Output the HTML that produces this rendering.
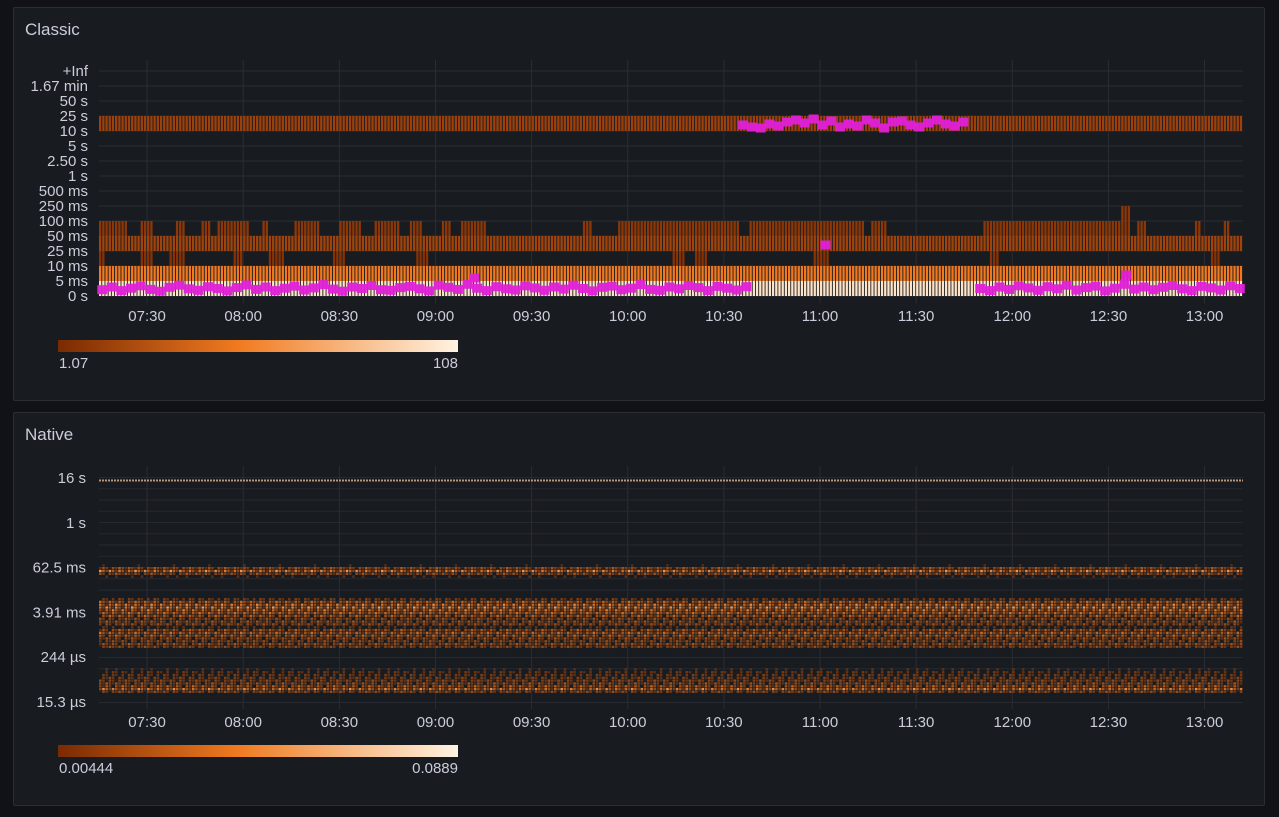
<!DOCTYPE html>
<html><head><meta charset="utf-8">
<style>
html,body{margin:0;padding:0;background:#111217;width:1279px;height:817px;overflow:hidden;font-family:"Liberation Sans",sans-serif}
.panel{position:absolute;left:13px;width:1252px;height:394px;background:#181b1f;border:1px solid #2a2d33;border-radius:2px;box-sizing:border-box}
.title{position:absolute;left:11px;top:12px;color:#ccccdc;font-size:17px;font-weight:500}
svg{position:absolute;left:0;top:0}
text{font-family:"Liberation Sans",sans-serif;fill:#ccccdc;font-size:15px}
</style></head><body>
<div class="panel" style="top:7px"><div class="title">Classic</div></div>
<div class="panel" style="top:412px"><div class="title">Native</div></div>
<svg id="chart" width="1279" height="817">
<defs>
<linearGradient id="grad" x1="0" x2="1" y1="0" y2="0">
<stop offset="0" stop-color="#7a2a02"/><stop offset="0.45" stop-color="#f07a20"/><stop offset="1" stop-color="#fff3e2"/>
</linearGradient>
</defs>
</svg>
<script>
// ---- data ----
var timeTicks = ["07:30","08:00","08:30","09:00","09:30","10:00","10:30","11:00","11:30","12:00","12:30","13:00"];
var tickMinutes = [30,60,90,120,150,180,210,240,270,300,330,360];
var classicLabels = ["+Inf","1.67 min","50 s","25 s","10 s","5 s","2.50 s","1 s","500 ms","250 ms","100 ms","50 ms","25 ms","10 ms","5 ms","0 s"];
var nativeLabels = ["16 s","1 s","62.5 ms","3.91 ms","244 µs","15.3 µs"];
// classic bands: [topLabelIndex, count]
var fullBands = [[3,14],[11,16],[13,48],[14,100]];
var seg50to100 = [[15,24.4],[28.1,31.6],[39.4,41.9],[46.9,50],[51.9,62.5],[65.6,68.1],[75.6,84],[89.6,97.1],[101.5,108.7],[111.8,116.2],[122.4,124.6],[128,136.1],[166.4,169.5],[176.7,215.4],[218.3,254.2],[256.3,261],[291,337.5],[339.4,342.2],[357.2,359.1],[365.6,368.4]];
var seg100to250 = [[334.4,337.5]];
var seg10to25 = [[15,16.6],[27.8,31.6],[37.5,41.9],[56.8,60],[68.1,73.4],[88.1,92.1],[113.7,118],[193.6,198],[201.4,205.1],[238.5,242.6],[292.6,296.3],[362.2,365.3]];
var lowExemplarsMs = [2.1,3.0,1.8,2.6,3.4,2.2,1.6,2.9,3.6,2.4,1.9,3.1,2.5,1.7,2.8,3.7,2.2,3.0,1.8,2.6,3.3,2.0,2.7,3.8,2.3,1.6,3.0,2.5,3.5,2.1,1.9,2.8,3.2,2.4,1.7,3.6,2.9,2.2,3.9,2.6,1.8,3.1,2.4,2.0,3.4,2.7,1.9,3.0,2.3,3.6,2.5,1.7,2.9,3.3,2.1,2.6,3.8,2.2,1.9,3.0,2.4,3.5,2.8,1.8,3.2,2.6,2.0,3.1];
var highExemplarsS = [16,14,13,17,15,19,21,18,22,16,20,14,17,15,21,18,13,19,20,16,14,18,21,17,15,19];
var lowExemplarsMs2 = [2.5,1.8,3.0,2.2,3.4,2.7,1.9,3.1,2.4,3.6,2.0,2.8,3.3,1.7,2.6,3.9,2.3,3.0,2.1,2.9,3.5,2.4,1.8,3.2,2.7,2.0,3.4,2.5];
var extraExemplars = [[241.7,11,35],[335.6,13,7],[132.1,13,6]]; // minute, labelIdx(top), value
// native: profile of bucket rows (row index from bottom, intensity 0..1)
var nativeProfile = [[3,0.5],[4,0.9],[5,0.7],[6,0.6],[7,0.5],[8,0.45],[9,0.4],[10,0.35],[11,0.25],[12,0.15],[13,0.08],
 [18,0.15],[19,0.5],[20,0.6],[21,0.55],[22,0.6],[23,0.7],[24,0.75],[25,0.65],[26,0.3],[27,0.55],[28,0.6],[29,0.55],[30,0.7],[31,0.75],[32,0.85],[33,1.0],[34,0.9],[35,0.7],[36,0.4],[37,0.15],
 [44,0.25],[45,0.6],[46,0.95],[47,0.6],[48,0.2]];
var nativeDrift = [0,0,0,0,0,0,0,0,0,0,0,0];
var classicScale = ["1.07","108"];
var nativeScale = ["0.00444","0.0889"];

// ---- drawing ----
var svg = document.getElementById('chart');
var NS = 'http://www.w3.org/2000/svg';
var X0 = 99, X1 = 1243, T0 = 15, T1 = 372;
function xs(m){ return X0 + (m - T0) * (X1 - X0) / (T1 - T0); }
function cy(i){ return 71 + i * 15; }
function el(tag, attrs, parent){ var e = document.createElementNS(NS, tag); for (var k in attrs) e.setAttribute(k, attrs[k]); (parent || svg).appendChild(e); return e; }
function colorFor(t){
  t = Math.max(0, Math.min(1, t));
  var a, b, u;
  if (t < 0.45){ a=[122,42,2]; b=[240,122,32]; u=t/0.45; } else { a=[240,122,32]; b=[255,243,226]; u=(t-0.45)/0.55; }
  return 'rgb(' + [0,1,2].map(function(i){ return Math.round(a[i] + (b[i]-a[i]) * u); }).join(',') + ')';
}
function inSeg(m, segs){ for (var i=0;i<segs.length;i++) if (m >= segs[i][0] && m < segs[i][1]) return true; return false; }
var colW = (X1 - X0) / (T1 - T0);

// grid
var g1 = el('g', {});


classicLabels.forEach(function(l, i){
  el('line', {x1:X0, x2:X1, y1:cy(i), y2:cy(i), stroke:'#2a2d33', 'stroke-width':1}, g1);
  var t = el('text', {x:88, y:cy(i)+5, 'text-anchor':'end'});
  t.textContent = l;
  
  
});
[[60,303],[466,709]].forEach(function(r, pi){
  tickMinutes.forEach(function(m, i){
    el('line', {x1:xs(m), x2:xs(m), y1:r[0], y2:r[1], stroke:'#2a2d33', 'stroke-width':1});
    var t = el('text', {x:xs(m), y:(pi?727:321), 'text-anchor':'middle'});
    t.textContent = timeTicks[i];
    
    
  });
});

// classic cells
var gc = el('g', {});


function cell(m, topIdx, count){
  var r = el('rect', {x:xs(m), y:cy(topIdx), width:colW*0.72, height:15, fill:colorFor(count/108)}, gc);
  
  
}
for (var m = T0; m < T1; m++){
  fullBands.forEach(function(b){ cell(m, b[0], b[1]); });
  if (inSeg(m+0.5, seg50to100)) cell(m, 10, 8);
  if (inSeg(m+0.5, seg100to250)) cell(m, 9, 8);
  if (inSeg(m+0.5, seg10to25)) cell(m, 12, 5);
}
// exemplars
var ge = el('g', {});


function ex(m, topIdx, frac){
  var y = cy(topIdx) + 15 - frac * 15;
  var r = el('rect', {x:xs(m)-5, y:y-4.5, width:10, height:9, fill:'#e020d8', opacity:0.95}, ge);
  
  
}
lowExemplarsMs.forEach(function(v, i){ ex(16 + i*3, 14, v/5); });
highExemplarsS.forEach(function(v, i){ ex(216 + i*2.75, 3, (v-10)/15); });
lowExemplarsMs2.forEach(function(v, i){ ex(290 + i*3, 14, v/5); });
extraExemplars.forEach(function(e){
  var lo = e[1]===11 ? 25 : 5, hi = e[1]===11 ? 50 : 10;
  ex(e[0], e[1], (e[2]-lo)/(hi-lo));
});

// native grid
var NB = 702, RH = 45/16;
function ny(k){ return NB - (k+1)*RH; }
var gn = el('g', {});


for (var k = 0; k <= 80; k += 4) el('line', {x1:X0, x2:X1, y1:NB - k*RH + 0.5, y2:NB - k*RH + 0.5, stroke:'#262930', 'stroke-width':1}, gn);
nativeLabels.forEach(function(l, i){
  var t = el('text', {x:86, y:478 + i*44.8 + 5, 'text-anchor':'end'});
  t.textContent = l;
  
  
});
// native cells
var gnc = el('g', {});


for (var m2 = T0; m2 < T1; m2++){
  var d = nativeDrift[Math.min(nativeDrift.length-1, Math.floor((m2 - T0) / 30))];
  nativeProfile.forEach(function(p){
    var h = ((m2*7 + p[0]*13) % 11) / 11;
    var v = p[1] * (0.3 + 0.9*h);
    if (v < 0.22) return;
    var r = el('rect', {x:xs(m2), y:ny(p[0]+d), width:colW*0.8, height:RH-0.5, fill:colorFor(v*0.55), opacity:Math.min(1, 0.35+v*0.6)}, gnc);
    
    
  });
}
var dl = el('line', {x1:X0, x2:X1, y1:480.5, y2:480.5, stroke:'#b8957a', 'stroke-width':2, 'stroke-dasharray':'2 1'});



// legends
[[340,classicScale,'classic'],[745,nativeScale,'native']].forEach(function(L){
  var r = el('rect', {x:58, y:L[0], width:400, height:12, fill:'url(#grad)'});
  
  
  var a = el('text', {x:59, y:L[0]+28, 'font-size':14});
  a.textContent = L[1][0];
  
  
  var b = el('text', {x:458, y:L[0]+28, 'text-anchor':'end', 'font-size':14});
  b.textContent = L[1][1];
  
  
});
</script>
</body></html>
